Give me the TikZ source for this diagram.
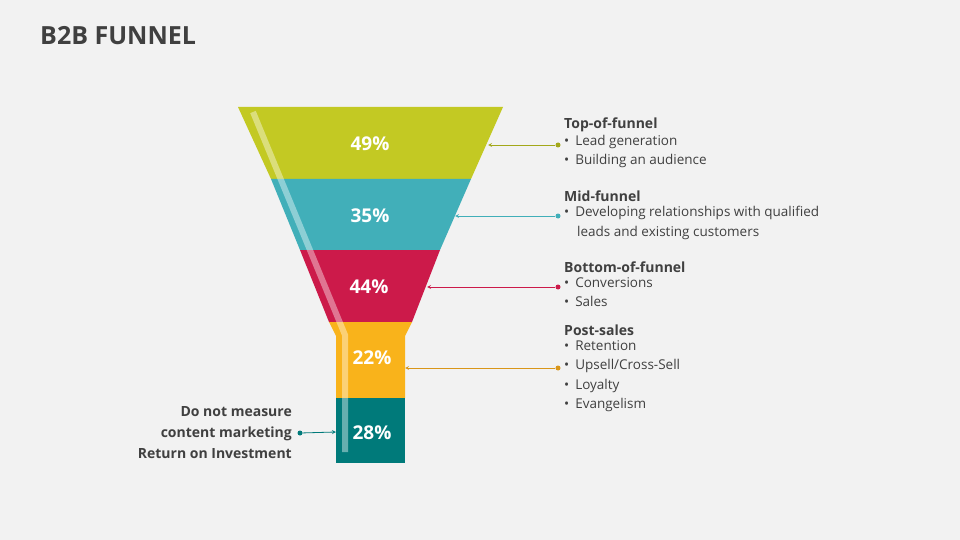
\documentclass[tikz,border=0pt]{standalone}
\usepackage{fontspec}
\setmainfont{Open Sans}
\begin{document}
\begin{tikzpicture}[x=1pt,y=-1pt,
  pct/.style={font=\bfseries\fontsize{19}{20}\selectfont,text=white},
  head/.style={font=\bfseries\fontsize{14}{16}\selectfont,text=txt,anchor=west,inner sep=0},
  bul/.style={font=\fontsize{13.5}{19.5}\selectfont,text=txt,anchor=north west,inner sep=0,align=left},
  con/.style={line width=0.8pt,-stealth},
  dotc/.style={circle,fill,inner sep=0,minimum size=5pt}]
\definecolor{bg}{HTML}{F2F2F2}
\definecolor{txt}{HTML}{404040}
\definecolor{cA}{HTML}{C3C923}
\definecolor{cB}{HTML}{41AFB9}
\definecolor{cC}{HTML}{CC1A4A}
\definecolor{cD}{HTML}{F9B31B}
\definecolor{cE}{HTML}{007A7A}
\definecolor{dA}{HTML}{A3A81A}
\definecolor{dD}{HTML}{D9961A}
\fill[bg] (0,0) rectangle (960,540);
\useasboundingbox (0,0) rectangle (960,540);
\node[anchor=west,inner sep=0,font=\bfseries\fontsize{25}{28}\selectfont,text=txt] (title) at (40,36) {B2B FUNNEL};
% funnel
\fill[cA] (238,107) -- (503,107) -- (471,179) -- (271,179) -- cycle;
\fill[cB] (271,179) -- (471,179) -- (440,250) -- (300,250) -- cycle;
\fill[cC] (300,250) -- (440,250) -- (412,322) -- (329,322) -- cycle;
\fill[cD] (329,322) -- (412,322) -- (405,336) -- (405,398) -- (336,398) -- (336,336) -- cycle;
\fill[cE] (336,398) rectangle (405,463);
\draw[white,opacity=0.4,line width=6pt] (253,112) -- (345,335) -- (345,452);
\node[pct] (pA) at (370,144) {49\%};
\node[pct] (pB) at (370,216) {35\%};
\node[pct] (pC) at (369,287) {44\%};
\node[pct] (pD) at (372,358) {22\%};
\node[pct] (pE) at (372,433) {28\%};
\coordinate (eA) at (488,145);
\coordinate (eB) at (455,216);
\coordinate (eC) at (427,287);
\coordinate (eD) at (405,368);
\coordinate (eE) at (336,432);
% right texts
\node[head] (hA) at (564,125) {Top-of-funnel};
\node[bul] (bA) at (564,135) {•\hspace{6pt}Lead generation\\•\hspace{6pt}Building an audience};
\node[head] (hB) at (564,196) {Mid-funnel};
\node[bul] (bB) at (564,206) {•\hspace{6pt}Developing relationships with qualified\\\hspace{13pt}leads and existing customers};
\node[head] (hC) at (564,267) {Bottom-of-funnel};
\node[bul] (bC) at (564,277) {•\hspace{6pt}Conversions\\•\hspace{6pt}Sales};
\node[head] (hD) at (564,330) {Post-sales};
\node[bul] (bD) at (564,340) {•\hspace{6pt}Retention\\•\hspace{6pt}Upsell/Cross-Sell\\•\hspace{6pt}Loyalty\\•\hspace{6pt}Evangelism};
\node[font=\bfseries\fontsize{14}{21}\selectfont,text=txt,align=right,anchor=east,inner sep=0] (lt) at (292,433) {Do not measure\\content marketing\\Return on Investment};
% connectors
\node[dotc,fill=dA] (dA) at (558,145) {};
\node[dotc,fill=cB] (dB) at (558,216) {};
\node[dotc,fill=cC] (dC) at (558,287) {};
\node[dotc,fill=dD] (dD) at (558,368) {};
\node[dotc,fill=cE] (dE) at (300,433) {};
\draw[con,dA] (dA) -- (eA);
\draw[con,cB] (dB) -- (eB);
\draw[con,cC] (dC) -- (eC);
\draw[con,dD] (dD) -- (eD);
\draw[con,cE] (dE) -- (eE);
\end{tikzpicture}
\end{document}
